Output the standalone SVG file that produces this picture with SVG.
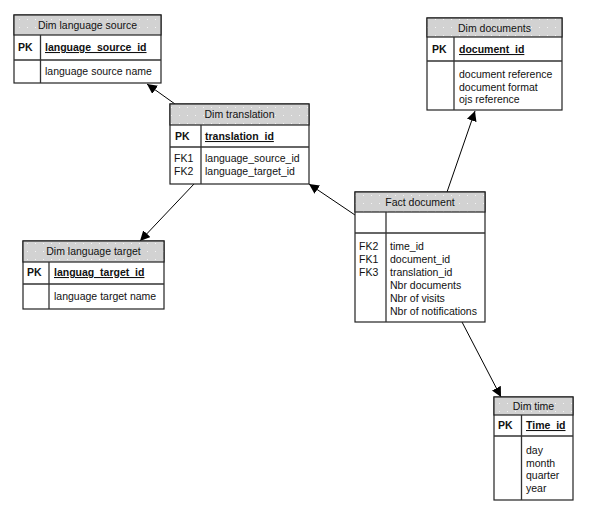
<svg xmlns="http://www.w3.org/2000/svg" width="589" height="516" viewBox="0 0 589 516">
<defs>
<pattern id="dots" width="8" height="8" patternUnits="userSpaceOnUse">
<rect width="8" height="8" fill="#d2d2d2"/>
<rect x="3" y="3" width="1" height="1" fill="#f4f4f4"/>
</pattern>
<marker id="arr" viewBox="0 0 10 10" refX="10" refY="5" markerWidth="10" markerHeight="10" markerUnits="userSpaceOnUse" orient="auto">
<path d="M0,0 L10,5 L0,10 Z" fill="#000"/>
</marker>
<style>
.box{fill:#fff;stroke:#222;stroke-width:1.2}
.hdr{fill:url(#dots);stroke:#222;stroke-width:1.2}
.ln{stroke:#333;stroke-width:1.3;fill:none}
text{font-family:"Liberation Sans",Arial,sans-serif;font-size:10.5px;fill:#111}
.t{text-anchor:middle}
.b{font-weight:bold}
.u{font-weight:bold;text-decoration:underline}
.c{stroke:#000;stroke-width:1;fill:none;marker-end:url(#arr)}
</style>
</defs>
<rect width="589" height="516" fill="#fff"/>

<g id="connectors">
<line class="c" x1="175" y1="104" x2="147" y2="84"/>
<line class="c" x1="194" y1="184" x2="140" y2="241"/>
<line class="c" x1="355" y1="215" x2="309" y2="184"/>
<line class="c" x1="447" y1="192" x2="475" y2="111"/>
<line class="c" x1="462" y1="322" x2="501" y2="397"/>
</g>

<g id="dim-language-source">
<rect class="box" x="14" y="15" width="147" height="68"/>
<rect class="hdr" x="14" y="15" width="147" height="20"/>
<line class="ln" x1="14" y1="60" x2="161" y2="60"/>
<line class="ln" x1="40.5" y1="35" x2="40.5" y2="83"/>
<text class="t" x="87.5" y="29">Dim language source</text>
<text class="b" x="18" y="51">PK</text>
<text class="u" x="45" y="51">language_source_id</text>
<text x="45" y="75">language source name</text>
</g>

<g id="dim-translation">
<rect class="box" x="170" y="104" width="139" height="80"/>
<rect class="hdr" x="170" y="104" width="139" height="21"/>
<line class="ln" x1="170" y1="147" x2="309" y2="147"/>
<line class="ln" x1="201" y1="125" x2="201" y2="184"/>
<text class="t" x="239.5" y="118">Dim translation</text>
<text class="b" x="175" y="140">PK</text>
<text class="u" x="205" y="140">translation_id</text>
<text x="174" y="162">FK1</text>
<text x="174" y="175">FK2</text>
<text x="205" y="162">language_source_id</text>
<text x="205" y="175">language_target_id</text>
</g>

<g id="dim-documents">
<rect class="box" x="427" y="18" width="135" height="92"/>
<rect class="hdr" x="427" y="18" width="135" height="19"/>
<line class="ln" x1="427" y1="61" x2="562" y2="61"/>
<line class="ln" x1="454" y1="37" x2="454" y2="110"/>
<text class="t" x="494.5" y="32">Dim documents</text>
<text class="b" x="432" y="53">PK</text>
<text class="u" x="459" y="53">document_id</text>
<text x="459" y="78">document reference</text>
<text x="459" y="90.5">document format</text>
<text x="459" y="103">ojs reference</text>
</g>

<g id="dim-language-target">
<rect class="box" x="23" y="241" width="141" height="68"/>
<rect class="hdr" x="23" y="241" width="141" height="21"/>
<line class="ln" x1="23" y1="284" x2="164" y2="284"/>
<line class="ln" x1="49" y1="262" x2="49" y2="309"/>
<text class="t" x="93.5" y="255">Dim language target</text>
<text class="b" x="27" y="276">PK</text>
<text class="u" x="54" y="276">languag_target_id</text>
<text x="54" y="300">language target name</text>
</g>

<g id="fact-document">
<rect class="box" x="355" y="192" width="130" height="130"/>
<rect class="hdr" x="355" y="192" width="130" height="20"/>
<line class="ln" x1="355" y1="233" x2="485" y2="233"/>
<line class="ln" x1="386" y1="212" x2="386" y2="322"/>
<text class="t" x="420" y="206">Fact document</text>
<text x="359" y="250">FK2</text>
<text x="359" y="263">FK1</text>
<text x="359" y="276">FK3</text>
<text x="390" y="250">time_id</text>
<text x="390" y="263">document_id</text>
<text x="390" y="276">translation_id</text>
<text x="390" y="289">Nbr documents</text>
<text x="390" y="302">Nbr of visits</text>
<text x="390" y="315">Nbr of notifications</text>
</g>

<g id="dim-time">
<rect class="box" x="494" y="397" width="79" height="103"/>
<rect class="hdr" x="494" y="397" width="79" height="18"/>
<line class="ln" x1="494" y1="436" x2="573" y2="436"/>
<line class="ln" x1="521.5" y1="415" x2="521.5" y2="500"/>
<text class="t" x="533.5" y="410">Dim time</text>
<text class="b" x="498" y="429">PK</text>
<text class="u" x="526" y="429">Time_id</text>
<text x="526" y="454">day</text>
<text x="526" y="466.5">month</text>
<text x="526" y="479">quarter</text>
<text x="526" y="491.5">year</text>
</g>
</svg>
